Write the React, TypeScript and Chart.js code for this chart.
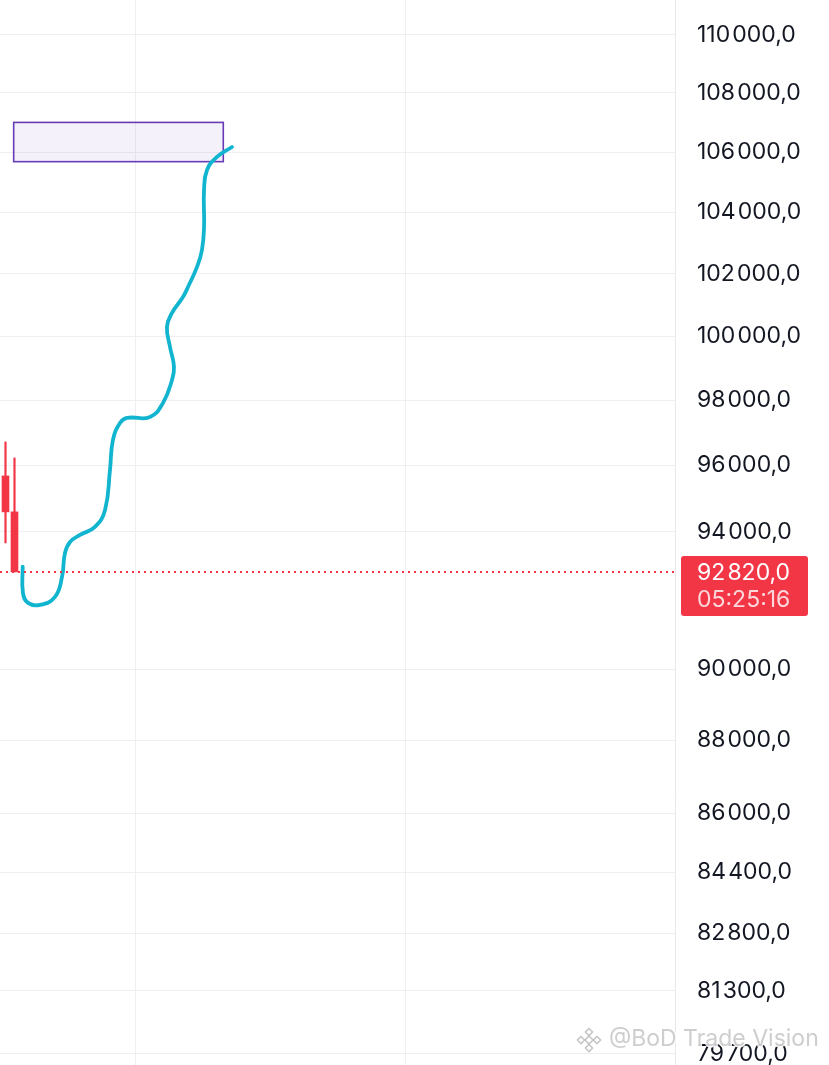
import { useEffect, useRef } from 'react';
import { Chart, registerables } from 'chart.js';

Chart.register(...registerables);

// ---- data ----
const yTickValues = [110000, 108000, 106000, 104000, 102000, 100000, 98000, 96000, 94000, 90000, 88000, 86000, 84400, 82800, 81300, 79700];
const yRange = [79415, 111224];
const xRange = [-1.61, 73.39];
const xGridTicks = [13.5, 43.5];

const candleIndex = [-1, 0];
const candleOpen = [95680, 94598];
const candleClose = [94598, 92820];
const candleHigh = [96714, 96226];
const candleLow = [93674, 92820];

const drawingX = [0.91, 0.94, 1.5, 2.83, 4.5, 5.28, 5.61, 6.17, 7.28, 8.94, 10.06, 10.61, 10.94, 11.72, 12.5, 15.06, 16.5, 17.5, 17.72, 17.28, 16.94, 17.5, 18.72, 19.28, 20.28, 20.83, 21.06, 21.06, 21.39, 22.5, 24.17];
const drawingPrice = [92974, 92205, 91913, 91854, 92088, 92672, 93378, 93704, 93911, 94149, 94657, 95862, 96776, 97297, 97451, 97482, 97915, 98629, 99035, 99664, 100296, 100741, 101253, 101573, 102219, 102769, 103520, 104738, 105403, 105838, 106172];

const zoneX = [-0.09, 23.2];
const zonePrice = [105680, 107000];

const lastPrice = 92820;
const countdown = '05:25:16';
const watermark = '@BoD Trade Vision';

const RED = '#f23645';
const FONT = 'Inter, "Noto Sans", sans-serif';

function fmt(v: number): string {
  const th = Math.floor(v / 1000);
  const rest = String(Math.round(v % 1000)).padStart(3, '0');
  return `${th}\u200A${rest},0`;
}

const overlayPlugin = {
  id: 'overlay',
  beforeDatasetsDraw(chart: any) {
    const { ctx, scales } = chart;
    const x = scales.x, y = scales.y;
    const x0 = x.getPixelForValue(zoneX[0]);
    const x1 = x.getPixelForValue(zoneX[1]);
    const yTop = y.getPixelForValue(zonePrice[1]);
    const yBot = y.getPixelForValue(zonePrice[0]);
    ctx.save();
    ctx.fillStyle = 'rgba(103,58,183,0.07)';
    ctx.fillRect(x0, yTop, x1 - x0, yBot - yTop);
    ctx.strokeStyle = '#673ab7';
    ctx.lineWidth = 1.6;
    ctx.strokeRect(x0, yTop, x1 - x0, yBot - yTop);
    ctx.restore();
  },
  afterDatasetsDraw(chart: any) {
    const { ctx, scales, chartArea } = chart;
    const py = scales.y.getPixelForValue(lastPrice);
    ctx.save();
    ctx.strokeStyle = RED;
    ctx.lineWidth = 2;
    ctx.setLineDash([2, 4]);
    ctx.beginPath();
    ctx.moveTo(chartArea.left, Math.round(py));
    ctx.lineTo(chartArea.right, Math.round(py));
    ctx.stroke();
    ctx.restore();
  },
  afterDraw(chart: any) {
    const { ctx, scales, chartArea } = chart;
    const py = scales.y.getPixelForValue(lastPrice);
    const bx = chartArea.right + 6;
    ctx.save();
    ctx.fillStyle = RED;
    ctx.beginPath();
    (ctx as any).roundRect(bx, py - 16, 127, 60, 3);
    ctx.fill();
    ctx.font = `23px ${FONT}`;
    ctx.textBaseline = 'middle';
    ctx.textAlign = 'left';
    ctx.fillStyle = '#ffffff';
    ctx.fillText(fmt(lastPrice), chartArea.right + 22, py + 1);
    ctx.fillStyle = 'rgba(255,255,255,0.8)';
    ctx.fillText(countdown, chartArea.right + 22, py + 28);

    // watermark
    const wx = 609, wy = 1039;
    ctx.font = `23px ${FONT}`;
    ctx.lineWidth = 3;
    ctx.strokeStyle = 'rgba(255,255,255,0.9)';
    ctx.strokeText(watermark, wx, wy);
    ctx.fillStyle = 'rgba(180,180,180,0.65)';
    ctx.fillText(watermark, wx, wy);
    ctx.strokeStyle = 'rgba(185,185,185,0.8)';
    ctx.lineWidth = 1.6;
    const cx = 589, cy = 1040;
    const dia = (dx: number, dy: number, r: number) => {
      ctx.beginPath();
      ctx.moveTo(cx + dx, cy + dy - r);
      ctx.lineTo(cx + dx + r, cy + dy);
      ctx.lineTo(cx + dx, cy + dy + r);
      ctx.lineTo(cx + dx - r, cy + dy);
      ctx.closePath();
      ctx.stroke();
    };
    dia(0, 0, 4);
    dia(0, -8, 3.5);
    dia(0, 8, 3.5);
    dia(-8, 0, 3.5);
    dia(8, 0, 3.5);
    ctx.restore();
  },
};

export default function App() {
  const ref = useRef<HTMLCanvasElement | null>(null);

  useEffect(() => {
    document.body.style.margin = '0';
    document.body.style.background = '#ffffff';
    if (!ref.current) return;

    const bodies = candleIndex.map((x, i) => ({ x, y: [candleOpen[i], candleClose[i]] }));
    const wicks = candleIndex.map((x, i) => ({ x, y: [candleLow[i], candleHigh[i]] }));
    const drawing = drawingX.map((x, i) => ({ x, y: drawingPrice[i] }));

    const chart = new Chart(ref.current, {
      type: 'bar',
      data: {
        datasets: [
          {
            type: 'bar',
            data: wicks as any,
            backgroundColor: RED,
            barThickness: 1.5,
            grouped: false,
            order: 3,
          } as any,
          {
            type: 'bar',
            data: bodies as any,
            backgroundColor: RED,
            barThickness: 7,
            grouped: false,
            order: 2,
          } as any,
          {
            type: 'line',
            data: drawing as any,
            borderColor: '#12b5cf',
            borderWidth: 3.8,
            tension: 0.45,
            pointRadius: 0,
            borderCapStyle: 'round',
            borderJoinStyle: 'round',
            fill: false,
            order: 1,
          } as any,
        ],
      },
      options: {
        animation: false,
        responsive: false,
        maintainAspectRatio: false,
        layout: { padding: 0 },
        plugins: { legend: { display: false }, tooltip: { enabled: false } },
        scales: {
          x: {
            type: 'linear',
            min: xRange[0],
            max: xRange[1],
            offset: false,
            display: true,
            afterBuildTicks: (s: any) => {
              s.ticks = xGridTicks.map((v) => ({ value: v }));
            },
            afterFit: (s: any) => {
              s.height = 0;
              s.paddingLeft = 0;
              s.paddingRight = 0;
            },
            ticks: { display: false },
            grid: { color: '#efeff2', lineWidth: 1, drawTicks: false, offset: false },
            border: { display: false },
          },
          y: {
            type: 'logarithmic',
            position: 'right',
            min: yRange[0],
            max: yRange[1],
            afterBuildTicks: (s: any) => {
              s.ticks = yTickValues.map((v) => ({ value: v }));
            },
            afterFit: (s: any) => {
              s.width = 154;
              s.paddingTop = 0;
              s.paddingBottom = 0;
            },
            ticks: {
              autoSkip: false,
              crossAlign: 'near',
              padding: 22,
              color: '#131722',
              font: { family: FONT, size: 23 },
              callback: (v: any) => fmt(Number(v)),
            },
            grid: { color: '#efeff2', lineWidth: 1, drawTicks: false },
            border: { display: true, color: '#e8e8ec', width: 1 },
          },
        },
      },
      plugins: [overlayPlugin],
    });
    return () => chart.destroy();
  }, []);

  return (
    <div style={{ position: 'absolute', left: 0, top: 0, width: 829, height: 1065, background: '#fff' }}>
      <canvas ref={ref} width={829} height={1065} style={{ width: 829, height: 1065, display: 'block' }} />
    </div>
  );
}
